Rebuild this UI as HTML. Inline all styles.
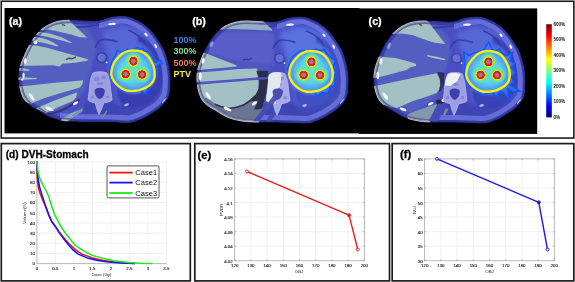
<!DOCTYPE html>
<html><head><meta charset="utf-8"><title>figure</title>
<style>
html,body{margin:0;padding:0;background:#fff;}
body{width:575px;height:282px;overflow:hidden;font-family:"Liberation Sans",sans-serif;}
svg{display:block}
text{font-family:"Liberation Sans",sans-serif;}
</style></head><body>
<svg width="575" height="282" viewBox="0 0 575 282">
<defs>
<filter id="b1" x="-20%" y="-20%" width="140%" height="140%"><feGaussianBlur stdDeviation="0.6"/></filter>
<filter id="b2" x="-20%" y="-20%" width="140%" height="140%"><feGaussianBlur stdDeviation="1.2"/></filter>
<filter id="b3" x="-20%" y="-20%" width="140%" height="140%"><feGaussianBlur stdDeviation="2.5"/></filter>
<filter id="bg" x="-5%" y="-5%" width="110%" height="110%"><feGaussianBlur stdDeviation="0.45"/></filter>
<filter id="b05" x="-20%" y="-20%" width="140%" height="140%"><feGaussianBlur stdDeviation="0.35"/></filter>
<radialGradient id="ptvg" cx="50%" cy="50%" r="50%">
<stop offset="0" stop-color="#6ee4dc"/><stop offset="0.55" stop-color="#5ecfe8"/><stop offset="0.8" stop-color="#52aef0"/><stop offset="1" stop-color="#4a8ef0"/>
</radialGradient>
<radialGradient id="spot" cx="50%" cy="50%" r="50%">
<stop offset="0" stop-color="#8e808c"/><stop offset="0.22" stop-color="#8e808c"/><stop offset="0.27" stop-color="#ea1418"/><stop offset="0.42" stop-color="#f21616"/><stop offset="0.46" stop-color="#f4d81c"/><stop offset="0.53" stop-color="#a8f040"/><stop offset="0.64" stop-color="#66e88c"/><stop offset="0.8" stop-color="#62dcc8" stop-opacity="0.7"/><stop offset="1" stop-color="#5cd6e4" stop-opacity="0"/>
</radialGradient>
<linearGradient id="cbar" x1="0" y1="0" x2="0" y2="1"><stop offset="0" stop-color="#800000"/><stop offset="0.125" stop-color="#ff0000"/><stop offset="0.375" stop-color="#ffff00"/><stop offset="0.5" stop-color="#80ff80"/><stop offset="0.625" stop-color="#00ffff"/><stop offset="0.875" stop-color="#0000ff"/><stop offset="1" stop-color="#000080"/></linearGradient>

<path id="body" d="M19.1,78.0 C19.1,74.7 19.5,71.2 20.2,68.0 C20.9,64.8 21.9,62.2 23.2,59.0 C24.5,55.8 26.0,52.2 27.8,48.7 C29.6,45.2 31.7,41.4 34.2,38.0 C36.7,34.6 39.9,31.1 43.0,28.6 C46.1,26.1 49.7,24.3 53.0,23.0 C56.3,21.7 60.2,21.1 63.0,20.7 C65.8,20.3 66.2,20.3 70.0,20.4 C73.8,20.5 81.3,21.0 85.5,21.2 C89.7,21.4 92.8,21.6 95.2,21.6 C97.6,21.6 98.6,21.3 100.0,21.0 C101.4,20.7 102.1,20.5 103.7,20.0 C105.3,19.5 107.4,18.4 109.8,17.9 C112.2,17.3 115.8,16.9 118.3,16.7 C120.8,16.5 123.0,16.5 125.0,16.7 C127.0,16.9 127.9,17.0 130.6,18.1 C133.3,19.2 138.1,21.2 141.3,23.2 C144.5,25.2 147.2,27.4 149.8,30.2 C152.5,33.0 154.9,36.4 157.2,39.8 C159.5,43.2 161.9,46.9 163.6,50.4 C165.3,53.9 166.3,57.7 167.2,61.0 C168.1,64.3 168.6,66.8 169.0,70.0 C169.4,73.2 169.9,75.7 169.8,80.0 C169.7,84.3 169.9,91.6 168.3,96.0 C166.7,100.4 163.0,103.9 160.3,106.6 C157.7,109.3 154.9,110.5 152.4,112.2 C149.9,113.9 148.3,115.0 145.4,116.5 C142.5,118.0 137.9,119.9 135.0,120.9 C132.1,121.9 131.2,122.2 128.0,122.3 C124.8,122.4 120.8,121.9 115.9,121.7 C111.0,121.5 104.3,121.3 98.5,121.2 C92.7,121.1 86.5,121.3 81.0,121.2 C75.5,121.1 69.7,121.0 65.4,120.5 C61.1,120.0 58.0,119.2 55.0,118.3 C52.0,117.4 50.1,116.8 47.3,115.3 C44.5,113.8 41.1,111.4 38.0,109.5 C34.9,107.6 31.3,105.9 28.8,103.8 C26.3,101.7 24.6,99.6 23.1,96.9 C21.7,94.2 20.8,90.8 20.1,87.6 C19.4,84.4 19.1,81.3 19.1,78.0 Z"/>
<clipPath id="bodyclip"><use href="#body"/></clipPath>
<clipPath id="rightclip"><path d="M99,0 H190 V140 H60 V113 H99 Z"/></clipPath>

<g id="spine"><path d="M93,73 C96,71.4 104,71.4 107,73 C109,76 110,82 110.5,88 C111,93 112,97 112,100 C110,102 106,102.6 103.7,103 C102.5,107 101,111 99,114.5 C97.5,111 96,107 95.4,103 C93,102.6 90,102 88.2,100 C88.5,97 89,93 89.5,88 C90,82 91,76 93,73 Z"/></g>
<g id="dosespots">
<ellipse cx="133.4" cy="61.2" rx="9.2" ry="10" fill="url(#spot)"/>
<circle cx="125.6" cy="74.2" r="9.4" fill="url(#spot)"/>
<circle cx="142" cy="74.5" r="9.4" fill="url(#spot)"/>
</g>
<path id="ptv" d="M111.2,72.9 C111.4,70.7 112.2,67.0 113.2,64.6 C114.2,62.2 115.8,60.3 117.3,58.5 C118.8,56.7 120.6,54.9 122.5,53.6 C124.4,52.3 126.5,51.3 128.7,50.8 C130.9,50.3 133.7,50.4 135.9,50.6 C138.1,50.8 140.1,51.1 142.0,51.9 C143.9,52.7 145.6,53.8 147.2,55.4 C148.8,57.0 150.1,59.3 151.3,61.5 C152.5,63.7 153.6,66.3 154.2,68.7 C154.8,71.1 154.8,73.9 154.6,76.0 C154.4,78.1 154.1,79.5 153.2,81.1 C152.3,82.7 150.9,84.3 149.2,85.6 C147.5,86.9 145.3,88.0 143.1,88.9 C140.9,89.8 138.5,90.5 135.9,90.8 C133.3,91.1 130.0,91.2 127.6,90.8 C125.2,90.4 123.5,89.6 121.5,88.3 C119.5,87.0 117.0,84.9 115.5,83.2 C114.0,81.5 113.0,79.7 112.3,78.0 C111.6,76.3 111.0,75.1 111.2,72.9 Z"/>
</defs>

<rect x="0" y="0" width="575" height="282" fill="#fff"/>
<rect x="1.25" y="1.25" width="572.6" height="136.8" fill="#fff" stroke="#1c1c1c" stroke-width="1.6"/>
<rect x="4.5" y="8" width="355" height="125.4" fill="#000"/>
<rect x="359" y="8.4" width="178.2" height="125.5" fill="#000"/>
<g transform="translate(0,0)" filter="url(#bg)">
<use href="#body" fill="#4a50c2"/>
<g clip-path="url(#bodyclip)">
<path d="M22,50 C28,38 42,26 58,22 L72,20 C82,24 92,32 95,42 C97,50 94,58 92,63 C90,70 88,80 86,88 C82,96 72,104 62,110 C52,114 40,109 32,103 C25,96 20,86 20,78 C20,66 20,58 22,50 Z" fill="#525ec0" filter="url(#b2)"/>
<path d="M102,32 C108,29 114,26.5 122,26.5 C133,26.5 142,31 149,38 C156,46 160,58 161,70 C162,82 158,94 151,102 C144,109 131,112 122,111 C117,100 114,72 108,56 C105,48 103,40 102,32 Z" fill="#5a6edc" filter="url(#b3)" opacity="0.75"/>
<path d="M62,27.5 C75,27.5 88,27 98,25 C106,23 114,21.8 122,22.6 C134,24.5 145,32 152.6,42 C158.6,50 162.6,60 164.4,72" fill="none" stroke="#2c2e9c" stroke-width="1.5" filter="url(#b1)" opacity="0.75"/>
<path d="M128,30 C136,33 142,38 146,45" fill="none" stroke="#2c2e9c" stroke-width="1.5" filter="url(#b1)" opacity="0.7"/>
<path d="M138,35 C150,39 160,52 163,68 C165,82 160,94 152,102 C144,108 134,110 124,108 C118,100 116,92 118,88 C130,99 151,95 156.5,78 C160,63 152,47 138,42 Z" fill="#2e34a8" filter="url(#b2)" opacity="0.8"/>
<path d="M84,104 C92,100 108,100 118,104 C130,110 146,108 160,98 L166,104 L150,122 L84,124 Z" fill="#3a3fae" filter="url(#b2)" opacity="0.75"/><path d="M95,48 C97,43 100,40 103,39.4 C108,39 113,40.4 117.6,41.6" fill="none" stroke="#3034a4" stroke-width="1.6" filter="url(#b1)" opacity="0.8"/><circle cx="101.6" cy="57.6" r="4.8" fill="#6470d4" stroke="#343aa8" stroke-width="1.2" filter="url(#b05)"/><circle cx="106.6" cy="62.4" r="0.9" fill="#dfe4ff"/>
<use href="#body" fill="none" stroke="#3a3ea6" stroke-width="6.5" opacity="1" filter="url(#b05)"/>
<g clip-path="url(#rightclip)"><use href="#body" fill="none" stroke="#6c74de" stroke-width="14" opacity="0.85" filter="url(#b1)"/><use href="#body" fill="none" stroke="#363aa4" stroke-width="3.8" filter="url(#b05)"/></g>
<clipPath id="wca"><path d="M38,30.5 L45.5,24 L52,20 L60,17 L69.4,18.6 L69.6,21 L87,37.4 L80,37.2 L71,34.4 L58,31.6 L49,29.6 Z"/><path d="M36,31.6 L50,33.6 L62,37.4 L72,42.4 L71,43 L58,39.6 L46,36.4 L34.6,34.4 Z"/><path d="M30,36 L44,38.4 L52,41.8 L58.5,45.8 L57.5,46.6 L46,43.4 L28,39.6 Z"/><path d="M22,50 L26,45 L36,45.4 L46,47.6 L57.5,50.8 L72,54.8 L88.5,59.6 L87,60.8 L75,62.8 L62,63.8 L60,66.4 L53.5,65.2 L40,65.4 L14,66 L16,58 Z"/><path d="M14,67.4 L24,68.2 L29.5,69.8 L29.5,70.8 L14,70.8 Z"/><path d="M14,77.2 L30,77.8 L36.5,78 L36.5,79 L28,79.4 L14,80.2 Z"/><path d="M14,87 L30,85.4 L43.5,84 L57.5,82.4 L70,81.4 L83,80.2 L82.5,84 L80,87.6 L68,91 L56,94.6 L44,98.2 L31,103.6 L20,101 Z"/><path d="M36,108.4 L52,101.6 L64,97 L77,92.4 L76,97.6 L73,101 L62,105.6 L46,112.8 Z"/><path d="M58,122 L70,113.4 L83,108.4 L82,111.6 L74,116.6 L64,124 Z"/></clipPath>
<g filter="url(#b05)">
<path d="M38,30.5 L45.5,24 L52,20 L60,17 L69.4,18.6 L69.6,21 L87,37.4 L80,37.2 L71,34.4 L58,31.6 L49,29.6 Z" fill="#a3c0c5"/>
<path d="M36,31.6 L50,33.6 L62,37.4 L72,42.4 L71,43 L58,39.6 L46,36.4 L34.6,34.4 Z" fill="#a3c0c5"/>
<path d="M30,36 L44,38.4 L52,41.8 L58.5,45.8 L57.5,46.6 L46,43.4 L28,39.6 Z" fill="#a3c0c5"/>
<path d="M22,50 L26,45 L36,45.4 L46,47.6 L57.5,50.8 L72,54.8 L88.5,59.6 L87,60.8 L75,62.8 L62,63.8 L60,66.4 L53.5,65.2 L40,65.4 L14,66 L16,58 Z" fill="#a3c0c5"/>
<path d="M14,67.4 L24,68.2 L29.5,69.8 L29.5,70.8 L14,70.8 Z" fill="#a3c0c5"/>
<path d="M14,77.2 L30,77.8 L36.5,78 L36.5,79 L28,79.4 L14,80.2 Z" fill="#a3c0c5"/>
<path d="M14,87 L30,85.4 L43.5,84 L57.5,82.4 L70,81.4 L83,80.2 L82.5,84 L80,87.6 L68,91 L56,94.6 L44,98.2 L31,103.6 L20,101 Z" fill="#a3c0c5"/>
<path d="M36,108.4 L52,101.6 L64,97 L77,92.4 L76,97.6 L73,101 L62,105.6 L46,112.8 Z" fill="#a3c0c5"/>
<path d="M58,122 L70,113.4 L83,108.4 L82,111.6 L74,116.6 L64,124 Z" fill="#8ea6b6"/>
</g>
<g clip-path="url(#wca)"><use href="#body" fill="none" stroke="#5e6886" stroke-width="5.6" filter="url(#b05)"/><use href="#body" fill="none" stroke="#b4bcd0" stroke-width="2.2" filter="url(#b05)"/></g>
<path d="M66,59.6 l3,-1.4 l3,0.6 l4,-2" stroke="#3c4078" stroke-width="1.4" fill="none" filter="url(#b05)"/>
<path d="M62,24.4 l3,1.2" stroke="#4a5070" stroke-width="1.4" fill="none" filter="url(#b05)"/>
<path d="M47,113.4 C57,112 68,106.6 79,98.4 L80,100.6 C70,108.6 58,114.2 48,115.2 Z" fill="#2a2e58" filter="url(#b05)" opacity="0.7"/>
<g fill="#f4f6ff" filter="url(#b05)">
<ellipse cx="35.4" cy="42.4" rx="2" ry="1.8" transform="rotate(0 35.4 42.4)"/>
<ellipse cx="25.4" cy="61" rx="1.4" ry="3" transform="rotate(8 25.4 61)"/>
<ellipse cx="22.2" cy="79.6" rx="1.1" ry="1.2" transform="rotate(0 22.2 79.6)"/>
<ellipse cx="23.6" cy="75.4" rx="1.1" ry="2.8" transform="rotate(0 23.6 75.4)"/>
<ellipse cx="31.6" cy="97" rx="1.5" ry="4.4" transform="rotate(-35 31.6 97)"/>
<ellipse cx="49.6" cy="108.8" rx="4.4" ry="1.5" transform="rotate(22 49.6 108.8)"/>
<ellipse cx="75.6" cy="103.2" rx="3" ry="1.3" transform="rotate(-32 75.6 103.2)"/>
<ellipse cx="112" cy="24" rx="4" ry="1.1" transform="rotate(-4 112 24)"/>
<ellipse cx="146" cy="34.6" rx="1.2" ry="2" transform="rotate(-40 146 34.6)"/>
<ellipse cx="155.7" cy="46" rx="1.1" ry="2.2" transform="rotate(-25 155.7 46)"/>
</g>
<g fill="#a8aef0" filter="url(#b05)"><ellipse cx="126.6" cy="104.8" rx="2.4" ry="1.3" transform="rotate(-15 126.6 104.8)"/><ellipse cx="164.6" cy="100.6" rx="1.1" ry="3.6" transform="rotate(42 164.6 100.6)"/></g>
<path d="M72.4,115.9 L81,110.4 M102,118.4 L107,110.4" stroke="#7c86a4" stroke-width="1.2" fill="none" filter="url(#b05)"/>
<use href="#spine" fill="#9e9ee2" stroke="#b8b8f0" stroke-width="0.8" filter="url(#b05)"/>
<g fill="#7c7ed2" opacity="0.75" filter="url(#b1)"><ellipse cx="96.6" cy="79" rx="2.8" ry="2.2"/><ellipse cx="103.6" cy="77.4" rx="2.4" ry="1.8"/><ellipse cx="100.4" cy="83.6" rx="3.2" ry="1.6"/><ellipse cx="92.6" cy="97" rx="1.8" ry="1.6"/><ellipse cx="107.4" cy="97" rx="1.8" ry="1.6"/></g>
<path d="M94.6,91 C94.6,86.6 104.8,86.6 104.8,91 C104.8,95 102,99 99.7,99 C97.4,99 94.6,95 94.6,91 Z" fill="#3c40ac" filter="url(#b05)"/>
<ellipse cx="132" cy="70.5" rx="24" ry="23" fill="#4c7cf2" filter="url(#b2)" opacity="0.6"/>
<path d="M112,61 L115.6,55.4 L117.4,50.4 L122,52.4 L128,49 L133,50 L137.6,47.4 L140,49 L143,48.4 L144,50.8 L148,51.6 L152.6,56.6 L155,62 L160.6,60.6 L162.4,63.2 L155.6,67 L156.4,74 L153.6,82 L149,87 L146.2,93.6 L143.6,93 L140.6,89.4 L133,92.4 L122,90.8 L115,85.4 L110.2,77 L109.8,68 Z" fill="#4582f2" fill-opacity="0.6" stroke="#0e58fc" stroke-width="1.5" stroke-linejoin="miter" filter="url(#b05)"/>
<use href="#ptv" fill="url(#ptvg)"/>
<use href="#dosespots"/>
<use href="#ptv" fill="none" stroke="#f6ee08" stroke-width="2.4" filter="url(#b05)"/>
</g>
<use href="#body" fill="none" stroke="#2a2e88" stroke-width="1.2" filter="url(#b05)" opacity="0.9"/>
<g clip-path="url(#wca)"><use href="#body" fill="none" stroke="#aab2cc" stroke-width="1.3" filter="url(#b05)"/></g>
</g>
<g transform="translate(178,0.7)" filter="url(#bg)">
<use href="#body" fill="#4a50c2"/>
<g clip-path="url(#bodyclip)">
<path d="M22,50 C28,38 42,26 58,22 L72,20 C82,24 92,32 95,42 C97,50 94,58 92,63 C90,70 88,80 86,88 C82,96 72,104 62,110 C52,114 40,109 32,103 C25,96 20,86 20,78 C20,66 20,58 22,50 Z" fill="#4f58c0" filter="url(#b2)"/>
<path d="M22,50 L30,32 L96,32 L96,64 L60,60 Z" fill="#5a60cc" filter="url(#b2)" opacity="0.8"/>
<path d="M102,32 C108,29 114,26.5 122,26.5 C133,26.5 142,31 149,38 C156,46 160,58 161,70 C162,82 158,94 151,102 C144,109 131,112 122,111 C117,100 114,72 108,56 C105,48 103,40 102,32 Z" fill="#5c76e4" filter="url(#b3)" opacity="0.9"/>
<path d="M62,27.5 C75,27.5 88,27 98,25 C106,23 114,21.8 122,22.6 C134,24.5 145,32 152.6,42 C158.6,50 162.6,60 164.4,72" fill="none" stroke="#2c2e9c" stroke-width="1.5" filter="url(#b1)" opacity="0.75"/>
<path d="M128,30 C136,33 142,38 146,45" fill="none" stroke="#2c2e9c" stroke-width="1.5" filter="url(#b1)" opacity="0.7"/>
<path d="M138,35 C150,39 160,52 163,68 C165,82 160,94 152,102 C144,108 134,110 124,108 C118,100 116,92 118,88 C130,99 151,95 156.5,78 C160,63 152,47 138,42 Z" fill="#2e34a8" filter="url(#b2)" opacity="0.55"/>
<path d="M84,104 C92,100 108,100 118,104 C130,110 146,108 160,98 L166,104 L150,122 L84,124 Z" fill="#3a3fae" filter="url(#b2)" opacity="0.75"/><path d="M95,48 C97,43 100,40 103,39.4 C108,39 113,40.4 117.6,41.6" fill="none" stroke="#3034a4" stroke-width="1.6" filter="url(#b1)" opacity="0.8"/><circle cx="101.6" cy="57.6" r="4.8" fill="#6470d4" stroke="#343aa8" stroke-width="1.2" filter="url(#b05)"/><circle cx="106.6" cy="62.4" r="0.9" fill="#dfe4ff"/>
<use href="#body" fill="none" stroke="#3a3ea6" stroke-width="6.5" opacity="1" filter="url(#b05)"/>
<g clip-path="url(#rightclip)"><use href="#body" fill="none" stroke="#6c74de" stroke-width="14" opacity="0.85" filter="url(#b1)"/><use href="#body" fill="none" stroke="#363aa4" stroke-width="3.8" filter="url(#b05)"/></g>
<clipPath id="wcb"><path d="M38,29.4 L44,21 L52,17 L62,15 L80,16 L94,28.6 L94,30 L70,28.8 L55,28.2 L44.3,28.6 Z"/><path d="M12,56 L22,52.6 L26.5,52 L40,57.4 L57.7,64.2 L59.1,65.9 L40,67.6 L12,70 Z"/><path d="M12,72.6 L40,70.2 L60.5,68.4 L79,67.7 L80.6,72 L80.4,76.6 L60,78.2 L40,79.8 L12,82 Z"/><path d="M20,100 L28,97 L37,102.8 L44,105.6 L51,107 L58,106 L65.4,103.5 L72,99 L80,98 L86,108 L80,124 L40,124 Z"/><path d="M12,84.6 L40,82.3 L60,80.7 L80.4,79.1 L80.6,88 L78,93.6 L72,99 L65.4,103.5 L58,106 L51,107 L44,105.6 L37,102.8 L28,97 L20,100 L12,96 Z"/></clipPath>
<g filter="url(#b05)">
<path d="M38,29.4 L44,21 L52,17 L62,15 L80,16 L94,28.6 L94,30 L70,28.8 L55,28.2 L44.3,28.6 Z" fill="#93adc4"/>
<path d="M12,56 L22,52.6 L26.5,52 L40,57.4 L57.7,64.2 L59.1,65.9 L40,67.6 L12,70 Z" fill="#a3c0c5"/>
<path d="M12,72.6 L40,70.2 L60.5,68.4 L79,67.7 L80.6,72 L80.4,76.6 L60,78.2 L40,79.8 L12,82 Z" fill="#a3c0c5"/>
<path d="M20,100 L28,97 L37,102.8 L44,105.6 L51,107 L58,106 L65.4,103.5 L72,99 L80,98 L86,108 L80,124 L40,124 Z" fill="#6a7492"/>
<path d="M12,84.6 L40,82.3 L60,80.7 L80.4,79.1 L80.6,88 L78,93.6 L72,99 L65.4,103.5 L58,106 L51,107 L44,105.6 L37,102.8 L28,97 L20,100 L12,96 Z" fill="#a3c0c5"/>
</g>
<g clip-path="url(#wcb)"><use href="#body" fill="none" stroke="#5e6886" stroke-width="5.6" filter="url(#b05)"/><use href="#body" fill="none" stroke="#b4bcd0" stroke-width="2.2" filter="url(#b05)"/></g>
<path d="M78.3,70 L90,70.4 L90,88 L86.5,98.6 L84,108 L76,109 L80,100 L73,100.6 L66,105 L58,107.6 L51,108.6 L44,107.2 L37,104.4 L37,102.8 L44,105.6 L51,107 L58,106 L65.4,103.5 L72,99 L78,93.6 L80.6,88 L81.4,80 Z" fill="#2b2f4c" filter="url(#b05)"/>
<path d="M79,78.1 L97,76.6" stroke="#4a52bc" stroke-width="2.5" fill="none" filter="url(#b05)"/>
<path d="M65,59.4 l3,-1 l2.4,0.8 l3.6,-1.8" stroke="#343aa0" stroke-width="1.3" fill="none" filter="url(#b05)"/>
<path d="M73,123 L79,123 L92,107 L88,104 Z" fill="#464cb4" filter="url(#b05)"/>
<path d="M87,122 L92,122 L101,108 L97,105.6 Z" fill="#464cb4" filter="url(#b05)"/>
<ellipse cx="33.6" cy="43.6" rx="1.4" ry="3.2" transform="rotate(25 33.6 43.6)" fill="#9aa0e4" filter="url(#b05)"/>
<g fill="#f4f6ff" filter="url(#b05)">
<ellipse cx="25.1" cy="60" rx="1.4" ry="3.2" transform="rotate(8 25.1 60)"/>
<ellipse cx="22.2" cy="75.6" rx="1.4" ry="4" transform="rotate(0 22.2 75.6)"/>
<ellipse cx="30.2" cy="95" rx="1.5" ry="4.2" transform="rotate(-33 30.2 95)"/>
<ellipse cx="49.5" cy="108.3" rx="4.2" ry="1.5" transform="rotate(24 49.5 108.3)"/>
<ellipse cx="76.6" cy="102.6" rx="3" ry="1.4" transform="rotate(-32 76.6 102.6)"/>
<ellipse cx="112" cy="24" rx="4" ry="1.1" transform="rotate(-4 112 24)"/>
<ellipse cx="146" cy="34.6" rx="1.2" ry="2" transform="rotate(-40 146 34.6)"/>
<ellipse cx="155.7" cy="46" rx="1.1" ry="2.2" transform="rotate(-25 155.7 46)"/>
</g>
<g fill="#a8aef0" filter="url(#b05)"><ellipse cx="126.6" cy="104.8" rx="2.4" ry="1.3" transform="rotate(-15 126.6 104.8)"/><ellipse cx="164.6" cy="100.6" rx="1.1" ry="3.6" transform="rotate(42 164.6 100.6)"/></g>
<use href="#spine" fill="#aaaae8" stroke="#b8b8f0" stroke-width="0.8" filter="url(#b05)"/>
<g fill="#7c7ed2" opacity="0.75" filter="url(#b1)"><ellipse cx="96.6" cy="79" rx="2.8" ry="2.2"/><ellipse cx="103.6" cy="77.4" rx="2.4" ry="1.8"/><ellipse cx="100.4" cy="83.6" rx="3.2" ry="1.6"/><ellipse cx="92.6" cy="97" rx="1.8" ry="1.6"/><ellipse cx="107.4" cy="97" rx="1.8" ry="1.6"/></g>
<path d="M90,78 C90,73 94,71.6 99,71.4 C102,71.4 103,72 103.6,74 L102,86 L97,96 L98,103 L92,102.6 L88.2,100 C88.5,97 89,93 89.5,88 C90,86 90,83 90,78 Z" fill="#e2e8ee" filter="url(#b05)"/>
<path d="M94.6,91 C94.6,86.6 104.8,86.6 104.8,91 C104.8,95 102,99 99.7,99 C97.4,99 94.6,95 94.6,91 Z" fill="#4a50b0" filter="url(#b05)"/>
<path d="M86,107.6 L91,108.6 L105.4,90.6 L101,87 Z" fill="#4a50b4" filter="url(#b05)" opacity="0.95"/>
<ellipse cx="132" cy="70.5" rx="24" ry="23" fill="#4c7cf2" filter="url(#b2)" opacity="0.6"/>
<path d="M112,61 L115.6,55.4 L120,52 L124,49.4 L128,51 L133,50 L138,48.4 L143,50 L146,48.8 L149,53 L153,57 L157.4,59.6 L155.6,67 L158.4,72 L156,76 L157.4,84.4 L152,86 L150.4,92.6 L144,92 L139,95.6 L137,91 L126,91.6 L118,87 L112.4,80 L109.8,68 Z" fill="#4582f2" fill-opacity="0.6" stroke="#0e58fc" stroke-width="1.5" stroke-linejoin="miter" filter="url(#b05)"/>
<use href="#ptv" fill="url(#ptvg)"/>
<use href="#dosespots"/>
<use href="#ptv" fill="none" stroke="#f6ee08" stroke-width="2.4" filter="url(#b05)"/>
</g>
<use href="#body" fill="none" stroke="#2a2e88" stroke-width="1.2" filter="url(#b05)" opacity="0.9"/>
<g clip-path="url(#wcb)"><use href="#body" fill="none" stroke="#aab2cc" stroke-width="1.3" filter="url(#b05)"/></g>
</g>
<g transform="translate(355,0.7)" filter="url(#bg)">
<use href="#body" fill="#4a50c2"/>
<g clip-path="url(#bodyclip)">
<path d="M22,50 C28,38 42,26 58,22 L72,20 C82,24 92,32 95,42 C97,50 94,58 92,63 C90,70 88,80 86,88 C82,96 72,104 62,110 C52,114 40,109 32,103 C25,96 20,86 20,78 C20,66 20,58 22,50 Z" fill="#525ec0" filter="url(#b2)"/>
<path d="M102,32 C108,29 114,26.5 122,26.5 C133,26.5 142,31 149,38 C156,46 160,58 161,70 C162,82 158,94 151,102 C144,109 131,112 122,111 C117,100 114,72 108,56 C105,48 103,40 102,32 Z" fill="#5a6edc" filter="url(#b3)" opacity="0.75"/>
<path d="M62,27.5 C75,27.5 88,27 98,25 C106,23 114,21.8 122,22.6 C134,24.5 145,32 152.6,42 C158.6,50 162.6,60 164.4,72" fill="none" stroke="#2c2e9c" stroke-width="1.5" filter="url(#b1)" opacity="0.75"/>
<path d="M128,30 C136,33 142,38 146,45" fill="none" stroke="#2c2e9c" stroke-width="1.5" filter="url(#b1)" opacity="0.7"/>
<path d="M138,35 C150,39 160,52 163,68 C165,82 160,94 152,102 C144,108 134,110 124,108 C118,100 116,92 118,88 C130,99 151,95 156.5,78 C160,63 152,47 138,42 Z" fill="#2e34a8" filter="url(#b2)" opacity="0.7"/>
<path d="M84,104 C92,100 108,100 118,104 C130,110 146,108 160,98 L166,104 L150,122 L84,124 Z" fill="#3a3fae" filter="url(#b2)" opacity="0.75"/><path d="M95,48 C97,43 100,40 103,39.4 C108,39 113,40.4 117.6,41.6" fill="none" stroke="#3034a4" stroke-width="1.6" filter="url(#b1)" opacity="0.8"/><circle cx="101.6" cy="57.6" r="4.8" fill="#6470d4" stroke="#343aa8" stroke-width="1.2" filter="url(#b05)"/><circle cx="106.6" cy="62.4" r="0.9" fill="#dfe4ff"/>
<use href="#body" fill="none" stroke="#3a3ea6" stroke-width="6.5" opacity="1" filter="url(#b05)"/>
<g clip-path="url(#rightclip)"><use href="#body" fill="none" stroke="#6c74de" stroke-width="14" opacity="0.85" filter="url(#b1)"/><use href="#body" fill="none" stroke="#363aa4" stroke-width="3.8" filter="url(#b05)"/></g>
<clipPath id="wcc"><path d="M34,33.4 L41.3,27 L52.7,20 L60,17 L68,16 L74.3,22.6 L90.4,43.2 L78.5,41.7 L68,38.2 L57.2,34.4 L46,32.8 Z"/><path d="M72,54.4 L82,56 L90.4,58.4 L90,59.6 L80,57.8 L72,55.6 Z"/><path d="M14,62 L18,55.2 L40,57.2 L52,60.4 L61,63 L61,65.4 L56,66.2 L52,69 L40,72.4 L30,75 L12,78.6 Z"/><path d="M12,87 L40,81 L60,76.8 L81.7,72.6 L84.6,78 L85.2,84 L84,89 L81.7,92.4 L70,96.6 L58,100.4 L42,107.4 L28,104 L16,96 Z"/><path d="M52,114.6 L55.6,112.4 L72.6,106 L82.6,103.2 L79,110 L74,124 L55,124 Z"/></clipPath>
<g filter="url(#b05)">
<path d="M34,33.4 L41.3,27 L52.7,20 L60,17 L68,16 L74.3,22.6 L90.4,43.2 L78.5,41.7 L68,38.2 L57.2,34.4 L46,32.8 Z" fill="#a3c0c5"/>
<path d="M72,54.4 L82,56 L90.4,58.4 L90,59.6 L80,57.8 L72,55.6 Z" fill="#a3c0c5"/>
<path d="M14,62 L18,55.2 L40,57.2 L52,60.4 L61,63 L61,65.4 L56,66.2 L52,69 L40,72.4 L30,75 L12,78.6 Z" fill="#a3c0c5"/>
<path d="M12,87 L40,81 L60,76.8 L81.7,72.6 L84.6,78 L85.2,84 L84,89 L81.7,92.4 L70,96.6 L58,100.4 L42,107.4 L28,104 L16,96 Z" fill="#a3c0c5"/>
<path d="M52,114.6 L55.6,112.4 L72.6,106 L82.6,103.2 L79,110 L74,124 L55,124 Z" fill="#8398ac"/>
</g>
<g clip-path="url(#wcc)"><use href="#body" fill="none" stroke="#5e6886" stroke-width="5.6" filter="url(#b05)"/><use href="#body" fill="none" stroke="#b4bcd0" stroke-width="2.2" filter="url(#b05)"/></g>
<path d="M64,23.4 l3,1.4" stroke="#4a5070" stroke-width="1.4" fill="none" filter="url(#b05)"/>
<path d="M80.6,99.6 L87.4,98.6 L88,104 L82.6,105.6 Z" fill="#20233c" filter="url(#b05)" opacity="0.85"/>
<path d="M83,103 L91.4,103 L82,123 L72,123 Z" fill="#464cb4" filter="url(#b05)"/>
<path d="M90.4,107.6 L93.4,108 L90,115 L88,114.6 Z" fill="#7c86a4" filter="url(#b05)"/>
<circle cx="88.2" cy="99.6" r="1.7" fill="#f4f6ff" filter="url(#b05)"/>
<path d="M82.4,71 L89.4,72 L89,84 L86,90 L83.6,92 L85.4,84 L84.8,78 Z" fill="#2b2f4c" filter="url(#b1)" opacity="0.9"/>
<ellipse cx="34.1" cy="45" rx="1.4" ry="3.2" transform="rotate(25 34.1 45)" fill="#9aa0e4" filter="url(#b05)"/>
<g fill="#f4f6ff" filter="url(#b05)">
<ellipse cx="26" cy="60.6" rx="1.5" ry="3.4" transform="rotate(8 26 60.6)"/>
<ellipse cx="22.8" cy="74.8" rx="1.4" ry="3.8" transform="rotate(0 22.8 74.8)"/>
<ellipse cx="30.4" cy="95.4" rx="1.5" ry="4.2" transform="rotate(-33 30.4 95.4)"/>
<ellipse cx="48" cy="108.6" rx="3.6" ry="1.3" transform="rotate(22 48 108.6)"/>
<ellipse cx="75.8" cy="103" rx="3" ry="1.2" transform="rotate(-25 75.8 103)"/>
<ellipse cx="112" cy="24" rx="4" ry="1.1" transform="rotate(-4 112 24)"/>
<ellipse cx="146" cy="34.6" rx="1.2" ry="2" transform="rotate(-40 146 34.6)"/>
<ellipse cx="155.7" cy="46" rx="1.1" ry="2.2" transform="rotate(-25 155.7 46)"/>
</g>
<g fill="#a8aef0" filter="url(#b05)"><ellipse cx="126.6" cy="104.8" rx="2.4" ry="1.3" transform="rotate(-15 126.6 104.8)"/><ellipse cx="164.6" cy="100.6" rx="1.1" ry="3.6" transform="rotate(42 164.6 100.6)"/></g>
<use href="#spine" fill="#9e9ee2" stroke="#b8b8f0" stroke-width="0.8" filter="url(#b05)"/>
<g fill="#7c7ed2" opacity="0.75" filter="url(#b1)"><ellipse cx="96.6" cy="79" rx="2.8" ry="2.2"/><ellipse cx="103.6" cy="77.4" rx="2.4" ry="1.8"/><ellipse cx="100.4" cy="83.6" rx="3.2" ry="1.6"/><ellipse cx="92.6" cy="97" rx="1.8" ry="1.6"/><ellipse cx="107.4" cy="97" rx="1.8" ry="1.6"/></g>
<path d="M89.8,84.6 L91,78 L93,73.6 C96,72 101,71.6 105.7,73.6 L102.5,80 L95,85.6 Z" fill="#eef2f6" filter="url(#b05)"/>
<path d="M94.6,91 C94.6,86.6 104.8,86.6 104.8,91 C104.8,95 102,99 99.7,99 C97.4,99 94.6,95 94.6,91 Z" fill="#3c40ac" filter="url(#b05)"/>
<ellipse cx="132" cy="70.5" rx="24" ry="23" fill="#4c7cf2" filter="url(#b2)" opacity="0.6"/>
<path d="M109.5,68 L110,62 L108.7,51.4 L114,55 L118,52.4 L122,51.6 L126,50 L129,49 L133.5,41.4 L137.5,49.4 L141,50 L144,48.4 L147,52.4 L151,55 L157.6,51.9 L155,60 L160,63 L156,67 L161,72 L156.4,76 L159,82 L155,84 L165,90.6 L158,91 L153,88 L153.3,97.3 L148,92 L145,91 L141,96 L138,91.5 L133,92 L128,95 L124,91.4 L118,88 L114.6,86 L111,80 L109.4,74 Z" fill="#4582f2" fill-opacity="0.6" stroke="#0e58fc" stroke-width="1.5" stroke-linejoin="miter" filter="url(#b05)"/>
<use href="#ptv" fill="url(#ptvg)"/>
<use href="#dosespots"/>
<use href="#ptv" fill="none" stroke="#f6ee08" stroke-width="2.4" filter="url(#b05)"/>
</g>
<use href="#body" fill="none" stroke="#2a2e88" stroke-width="1.2" filter="url(#b05)" opacity="0.9"/>
<g clip-path="url(#wcc)"><use href="#body" fill="none" stroke="#aab2cc" stroke-width="1.3" filter="url(#b05)"/></g>
</g>
<text x="8.9" y="24.5" font-size="10.7" font-weight="bold" fill="#fff" stroke="#fff" stroke-width="0.25">(a)</text>
<text x="192.2" y="24.9" font-size="10.7" font-weight="bold" fill="#fff" stroke="#fff" stroke-width="0.25">(b)</text>
<text x="368.6" y="24.7" font-size="10.7" font-weight="bold" fill="#fff" stroke="#fff" stroke-width="0.25">(c)</text>
<text x="173.6" y="43.3" font-size="9" font-weight="bold" fill="#4a7ee8">100%</text>
<text x="173.6" y="54.3" font-size="9" font-weight="bold" fill="#8fdc96">300%</text>
<text x="173.6" y="65.5" font-size="9" font-weight="bold" fill="#ee8064">500%</text>
<text x="173.6" y="76.6" font-size="9" font-weight="bold" fill="#f8ee38">PTV</text>
<rect x="546.2" y="24.2" width="5.6" height="93.2" fill="url(#cbar)"/>
<text x="553.4" y="25.8" font-size="4.6" font-weight="bold" fill="#111">600%</text>
<text x="553.4" y="41.3" font-size="4.6" font-weight="bold" fill="#111">500%</text>
<text x="553.4" y="56.9" font-size="4.6" font-weight="bold" fill="#111">400%</text>
<text x="553.4" y="72.4" font-size="4.6" font-weight="bold" fill="#111">300%</text>
<text x="553.4" y="87.9" font-size="4.6" font-weight="bold" fill="#111">200%</text>
<text x="553.4" y="103.4" font-size="4.6" font-weight="bold" fill="#111">100%</text>
<text x="553.4" y="119.0" font-size="4.6" font-weight="bold" fill="#111">0%</text>
<rect x="1.3" y="143.6" width="189.0" height="137.3" fill="#fff" stroke="#1c1c1c" stroke-width="1.7"/>
<rect x="194.8" y="143.6" width="194.7" height="137.3" fill="#fff" stroke="#1c1c1c" stroke-width="1.7"/>
<rect x="392.2" y="143.6" width="181.59999999999997" height="137.3" fill="#fff" stroke="#1c1c1c" stroke-width="1.7"/>
<text x="5.7" y="158.4" font-size="11.7" font-weight="bold" fill="#000" stroke="#000" stroke-width="0.3" textLength="83" lengthAdjust="spacingAndGlyphs">(d) DVH-Stomach</text>
<text x="197.6" y="159" font-size="11.2" font-weight="bold" fill="#000" stroke="#000" stroke-width="0.3">(e)</text>
<text x="400" y="158.2" font-size="11.2" font-weight="bold" fill="#000" stroke="#000" stroke-width="0.3">(f)</text>
<path d="M55.4,162.1V263.6M73.9,162.1V263.6M92.4,162.1V263.6M110.9,162.1V263.6M129.4,162.1V263.6M147.9,162.1V263.6M166.4,162.1V263.6M36.9,253.5H166.4M36.9,243.3H166.4M36.9,233.2H166.4M36.9,223.0H166.4M36.9,212.9H166.4M36.9,202.7H166.4M36.9,192.6H166.4M36.9,182.4H166.4M36.9,172.3H166.4M36.9,162.1H166.4" stroke="#e6e6e6" stroke-width="0.6" fill="none"/>
<path d="M36.9,162.1V263.6H166.4" stroke="#9a9a9a" stroke-width="0.7" fill="none"/>
<text x="36.9" y="269.6" font-size="4.4" text-anchor="middle" fill="#1a1a1a" stroke="#1a1a1a" stroke-width="0.12">0</text>
<text x="55.4" y="269.6" font-size="4.4" text-anchor="middle" fill="#1a1a1a" stroke="#1a1a1a" stroke-width="0.12">0.5</text>
<text x="73.9" y="269.6" font-size="4.4" text-anchor="middle" fill="#1a1a1a" stroke="#1a1a1a" stroke-width="0.12">1</text>
<text x="92.4" y="269.6" font-size="4.4" text-anchor="middle" fill="#1a1a1a" stroke="#1a1a1a" stroke-width="0.12">1.5</text>
<text x="110.9" y="269.6" font-size="4.4" text-anchor="middle" fill="#1a1a1a" stroke="#1a1a1a" stroke-width="0.12">2</text>
<text x="129.4" y="269.6" font-size="4.4" text-anchor="middle" fill="#1a1a1a" stroke="#1a1a1a" stroke-width="0.12">2.5</text>
<text x="147.9" y="269.6" font-size="4.4" text-anchor="middle" fill="#1a1a1a" stroke="#1a1a1a" stroke-width="0.12">3</text>
<text x="166.4" y="269.6" font-size="4.4" text-anchor="middle" fill="#1a1a1a" stroke="#1a1a1a" stroke-width="0.12">3.5</text>
<text x="34.9" y="265.3" font-size="4.4" text-anchor="end" fill="#1a1a1a" stroke="#1a1a1a" stroke-width="0.12">0</text>
<text x="34.9" y="255.2" font-size="4.4" text-anchor="end" fill="#1a1a1a" stroke="#1a1a1a" stroke-width="0.12">10</text>
<text x="34.9" y="245.0" font-size="4.4" text-anchor="end" fill="#1a1a1a" stroke="#1a1a1a" stroke-width="0.12">20</text>
<text x="34.9" y="234.9" font-size="4.4" text-anchor="end" fill="#1a1a1a" stroke="#1a1a1a" stroke-width="0.12">30</text>
<text x="34.9" y="224.7" font-size="4.4" text-anchor="end" fill="#1a1a1a" stroke="#1a1a1a" stroke-width="0.12">40</text>
<text x="34.9" y="214.6" font-size="4.4" text-anchor="end" fill="#1a1a1a" stroke="#1a1a1a" stroke-width="0.12">50</text>
<text x="34.9" y="204.4" font-size="4.4" text-anchor="end" fill="#1a1a1a" stroke="#1a1a1a" stroke-width="0.12">60</text>
<text x="34.9" y="194.2" font-size="4.4" text-anchor="end" fill="#1a1a1a" stroke="#1a1a1a" stroke-width="0.12">70</text>
<text x="34.9" y="184.1" font-size="4.4" text-anchor="end" fill="#1a1a1a" stroke="#1a1a1a" stroke-width="0.12">80</text>
<text x="34.9" y="174.0" font-size="4.4" text-anchor="end" fill="#1a1a1a" stroke="#1a1a1a" stroke-width="0.12">90</text>
<text x="34.9" y="163.8" font-size="4.4" text-anchor="end" fill="#1a1a1a" stroke="#1a1a1a" stroke-width="0.12">100</text>
<text x="101.5" y="275.8" font-size="4.4" text-anchor="middle" fill="#1a1a1a">Dose (Gy)</text>
<text transform="translate(26.3,213) rotate(-90)" font-size="4.4" text-anchor="middle" fill="#1a1a1a">Volume(%)</text>
<polyline points="36.9,162.1 37.1,170.2 37.3,177.3 37.6,182.7 38.6,188.0 39.6,192.2 42.1,198.6 44.9,204.9 48.7,214.9 51.7,221.2 56.0,227.1 59.1,231.6 62.4,236.0 65.8,240.1 69.1,243.8 75.6,249.9 82.0,254.1 92.4,257.9 103.1,260.6 116.4,262.3 134.2,263.6" fill="none" stroke="#f01414" stroke-width="1.5" stroke-linejoin="round" stroke-linecap="round"/>
<polyline points="36.9,162.1 37.2,168.2 37.4,173.0 38.4,180.4 39.6,187.0 42.1,195.6 44.9,204.0 48.7,214.6 51.7,221.5 56.0,227.6 59.1,232.6 62.4,237.1 65.8,241.5 69.1,245.5 73.0,249.9 78.2,254.1 87.2,257.9 97.8,260.6 108.3,262.1 121.3,263.1 134.2,263.6" fill="none" stroke="#1414f0" stroke-width="1.5" stroke-linejoin="round" stroke-linecap="round"/>
<polyline points="36.9,162.1 37.5,167.2 38.0,172.0 40.2,179.4 42.8,184.8 45.4,189.5 47.4,193.3 49.5,199.1 51.3,205.0 54.5,214.6 56.0,217.2 59.1,223.2 62.4,228.8 65.8,233.7 69.1,237.8 72.4,242.1 75.6,245.5 82.0,249.9 87.2,252.9 92.4,255.4 103.1,258.4 113.5,260.8 129.0,262.6 139.8,263.3 152.0,263.6" fill="none" stroke="#14ee14" stroke-width="1.5" stroke-linejoin="round" stroke-linecap="round"/>
<rect x="107" y="165.9" width="52" height="32" rx="1.2" fill="#fff" stroke="#444" stroke-width="0.9"/>
<path d="M109.4,172.6H132.7" stroke="#f01414" stroke-width="1.8"/>
<text x="135.3" y="175.3" font-size="7.5" fill="#111" textLength="21.8" lengthAdjust="spacingAndGlyphs">Case1</text>
<path d="M109.4,182.6H132.7" stroke="#1414f0" stroke-width="1.8"/>
<text x="135.3" y="185.3" font-size="7.5" fill="#111" textLength="21.8" lengthAdjust="spacingAndGlyphs">Case2</text>
<path d="M109.4,193H132.7" stroke="#14ee14" stroke-width="1.8"/>
<text x="135.3" y="195.7" font-size="7.5" fill="#111" textLength="21.8" lengthAdjust="spacingAndGlyphs">Case3</text>
<path d="M250.9,158.9V260.8M267.1,158.9V260.8M283.3,158.9V260.8M299.5,158.9V260.8M315.7,158.9V260.8M331.9,158.9V260.8M348.1,158.9V260.8M234.7,246.2H364.3M234.7,231.7H364.3M234.7,217.1H364.3M234.7,202.6H364.3M234.7,188.0H364.3M234.7,173.5H364.3" stroke="#e6e6e6" stroke-width="0.6" fill="none"/>
<rect x="234.7" y="158.9" width="129.6" height="101.9" fill="none" stroke="#9a9a9a" stroke-width="0.7"/>
<path d="M234.7,260.8v-1.4M234.7,158.9v1.4M250.9,260.8v-1.4M250.9,158.9v1.4M267.1,260.8v-1.4M267.1,158.9v1.4M283.3,260.8v-1.4M283.3,158.9v1.4M299.5,260.8v-1.4M299.5,158.9v1.4M315.7,260.8v-1.4M315.7,158.9v1.4M331.9,260.8v-1.4M331.9,158.9v1.4M348.1,260.8v-1.4M348.1,158.9v1.4M364.3,260.8v-1.4M364.3,158.9v1.4M234.7,260.8h1.4M364.3,260.8h-1.4M234.7,246.2h1.4M364.3,246.2h-1.4M234.7,231.7h1.4M364.3,231.7h-1.4M234.7,217.1h1.4M364.3,217.1h-1.4M234.7,202.6h1.4M364.3,202.6h-1.4M234.7,188.0h1.4M364.3,188.0h-1.4M234.7,173.5h1.4M364.3,173.5h-1.4M234.7,158.9h1.4M364.3,158.9h-1.4" stroke="#9a9a9a" stroke-width="0.6" fill="none"/>
<text x="234.7" y="267" font-size="4.4" text-anchor="middle" fill="#1a1a1a" stroke="#1a1a1a" stroke-width="0.12">120</text>
<text x="250.9" y="267" font-size="4.4" text-anchor="middle" fill="#1a1a1a" stroke="#1a1a1a" stroke-width="0.12">130</text>
<text x="267.1" y="267" font-size="4.4" text-anchor="middle" fill="#1a1a1a" stroke="#1a1a1a" stroke-width="0.12">140</text>
<text x="283.3" y="267" font-size="4.4" text-anchor="middle" fill="#1a1a1a" stroke="#1a1a1a" stroke-width="0.12">150</text>
<text x="299.5" y="267" font-size="4.4" text-anchor="middle" fill="#1a1a1a" stroke="#1a1a1a" stroke-width="0.12">160</text>
<text x="315.7" y="267" font-size="4.4" text-anchor="middle" fill="#1a1a1a" stroke="#1a1a1a" stroke-width="0.12">170</text>
<text x="331.9" y="267" font-size="4.4" text-anchor="middle" fill="#1a1a1a" stroke="#1a1a1a" stroke-width="0.12">180</text>
<text x="348.1" y="267" font-size="4.4" text-anchor="middle" fill="#1a1a1a" stroke="#1a1a1a" stroke-width="0.12">190</text>
<text x="364.3" y="267" font-size="4.4" text-anchor="middle" fill="#1a1a1a" stroke="#1a1a1a" stroke-width="0.12">200</text>
<text x="232.7" y="262.7" font-size="4.4" text-anchor="end" fill="#1a1a1a" stroke="#1a1a1a" stroke-width="0.12">4.02</text>
<text x="232.7" y="248.1" font-size="4.4" text-anchor="end" fill="#1a1a1a" stroke="#1a1a1a" stroke-width="0.12">4.04</text>
<text x="232.7" y="233.6" font-size="4.4" text-anchor="end" fill="#1a1a1a" stroke="#1a1a1a" stroke-width="0.12">4.06</text>
<text x="232.7" y="219.0" font-size="4.4" text-anchor="end" fill="#1a1a1a" stroke="#1a1a1a" stroke-width="0.12">4.08</text>
<text x="232.7" y="204.5" font-size="4.4" text-anchor="end" fill="#1a1a1a" stroke="#1a1a1a" stroke-width="0.12">4.1</text>
<text x="232.7" y="189.9" font-size="4.4" text-anchor="end" fill="#1a1a1a" stroke="#1a1a1a" stroke-width="0.12">4.12</text>
<text x="232.7" y="175.4" font-size="4.4" text-anchor="end" fill="#1a1a1a" stroke="#1a1a1a" stroke-width="0.12">4.14</text>
<text x="232.7" y="160.8" font-size="4.4" text-anchor="end" fill="#1a1a1a" stroke="#1a1a1a" stroke-width="0.12">4.16</text>
<text x="299" y="273.2" font-size="4.4" text-anchor="middle" fill="#1a1a1a">OBJ</text>
<text transform="translate(222.9,209.8) rotate(-90)" font-size="4.4" text-anchor="middle" fill="#1a1a1a">PVDR</text>
<polyline points="247.0,171.5 349.0,215.2 357.8,249.5" fill="none" stroke="#ec1c1c" stroke-width="1.4" stroke-linejoin="round"/>
<circle cx="247" cy="171.5" r="1.5" fill="#fff" fill-opacity="0.6" stroke="#ec1c1c" stroke-width="0.9"/>
<circle cx="349" cy="215.2" r="1.5" fill="#ec1c1c" fill-opacity="1" stroke="#ec1c1c" stroke-width="0.9"/>
<circle cx="357.8" cy="249.5" r="1.5" fill="#fff" fill-opacity="0.6" stroke="#ec1c1c" stroke-width="0.9"/>
<path d="M440.9,158.9V260.8M457.1,158.9V260.8M473.3,158.9V260.8M489.5,158.9V260.8M505.7,158.9V260.8M521.9,158.9V260.8M538.1,158.9V260.8M424.7,246.2H554.3M424.7,231.7H554.3M424.7,217.1H554.3M424.7,202.6H554.3M424.7,188.0H554.3M424.7,173.5H554.3" stroke="#e6e6e6" stroke-width="0.6" fill="none"/>
<rect x="424.7" y="158.9" width="129.6" height="101.9" fill="none" stroke="#9a9a9a" stroke-width="0.7"/>
<path d="M424.7,260.8v-1.4M424.7,158.9v1.4M440.9,260.8v-1.4M440.9,158.9v1.4M457.1,260.8v-1.4M457.1,158.9v1.4M473.3,260.8v-1.4M473.3,158.9v1.4M489.5,260.8v-1.4M489.5,158.9v1.4M505.7,260.8v-1.4M505.7,158.9v1.4M521.9,260.8v-1.4M521.9,158.9v1.4M538.1,260.8v-1.4M538.1,158.9v1.4M554.3,260.8v-1.4M554.3,158.9v1.4M424.7,260.8h1.4M554.3,260.8h-1.4M424.7,246.2h1.4M554.3,246.2h-1.4M424.7,231.7h1.4M554.3,231.7h-1.4M424.7,217.1h1.4M554.3,217.1h-1.4M424.7,202.6h1.4M554.3,202.6h-1.4M424.7,188.0h1.4M554.3,188.0h-1.4M424.7,173.5h1.4M554.3,173.5h-1.4M424.7,158.9h1.4M554.3,158.9h-1.4" stroke="#9a9a9a" stroke-width="0.6" fill="none"/>
<text x="424.7" y="267" font-size="4.4" text-anchor="middle" fill="#1a1a1a" stroke="#1a1a1a" stroke-width="0.12">120</text>
<text x="440.9" y="267" font-size="4.4" text-anchor="middle" fill="#1a1a1a" stroke="#1a1a1a" stroke-width="0.12">130</text>
<text x="457.1" y="267" font-size="4.4" text-anchor="middle" fill="#1a1a1a" stroke="#1a1a1a" stroke-width="0.12">140</text>
<text x="473.3" y="267" font-size="4.4" text-anchor="middle" fill="#1a1a1a" stroke="#1a1a1a" stroke-width="0.12">150</text>
<text x="489.5" y="267" font-size="4.4" text-anchor="middle" fill="#1a1a1a" stroke="#1a1a1a" stroke-width="0.12">160</text>
<text x="505.7" y="267" font-size="4.4" text-anchor="middle" fill="#1a1a1a" stroke="#1a1a1a" stroke-width="0.12">170</text>
<text x="521.9" y="267" font-size="4.4" text-anchor="middle" fill="#1a1a1a" stroke="#1a1a1a" stroke-width="0.12">180</text>
<text x="538.1" y="267" font-size="4.4" text-anchor="middle" fill="#1a1a1a" stroke="#1a1a1a" stroke-width="0.12">190</text>
<text x="554.3" y="267" font-size="4.4" text-anchor="middle" fill="#1a1a1a" stroke="#1a1a1a" stroke-width="0.12">200</text>
<text x="422.7" y="262.7" font-size="4.4" text-anchor="end" fill="#1a1a1a" stroke="#1a1a1a" stroke-width="0.12">30</text>
<text x="422.7" y="248.1" font-size="4.4" text-anchor="end" fill="#1a1a1a" stroke="#1a1a1a" stroke-width="0.12">35</text>
<text x="422.7" y="233.6" font-size="4.4" text-anchor="end" fill="#1a1a1a" stroke="#1a1a1a" stroke-width="0.12">40</text>
<text x="422.7" y="219.0" font-size="4.4" text-anchor="end" fill="#1a1a1a" stroke="#1a1a1a" stroke-width="0.12">45</text>
<text x="422.7" y="204.5" font-size="4.4" text-anchor="end" fill="#1a1a1a" stroke="#1a1a1a" stroke-width="0.12">50</text>
<text x="422.7" y="189.9" font-size="4.4" text-anchor="end" fill="#1a1a1a" stroke="#1a1a1a" stroke-width="0.12">55</text>
<text x="422.7" y="175.4" font-size="4.4" text-anchor="end" fill="#1a1a1a" stroke="#1a1a1a" stroke-width="0.12">60</text>
<text x="422.7" y="160.8" font-size="4.4" text-anchor="end" fill="#1a1a1a" stroke="#1a1a1a" stroke-width="0.12">65</text>
<text x="489.5" y="273.2" font-size="4.4" text-anchor="middle" fill="#1a1a1a">OBJ</text>
<text transform="translate(416.1,209.8) rotate(-90)" font-size="4.4" text-anchor="middle" fill="#1a1a1a">NUJ</text>
<polyline points="436.9,158.8 538.8,202.3 547.5,249.5" fill="none" stroke="#1c1cec" stroke-width="1.4" stroke-linejoin="round"/>
<circle cx="436.9" cy="158.8" r="1.5" fill="#fff" fill-opacity="0.6" stroke="#1c1cec" stroke-width="0.9"/>
<circle cx="538.8" cy="202.3" r="1.5" fill="#1c1cec" fill-opacity="1" stroke="#1c1cec" stroke-width="0.9"/>
<circle cx="547.5" cy="249.5" r="1.5" fill="#fff" fill-opacity="0.6" stroke="#1c1cec" stroke-width="0.9"/>
</svg></body></html>
